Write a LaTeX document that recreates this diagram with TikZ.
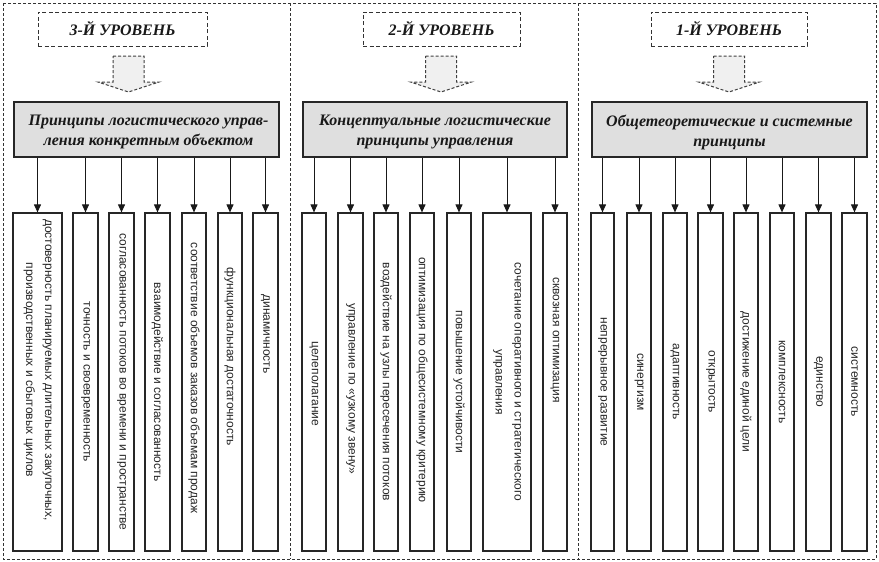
\documentclass[tikz,border=0pt]{standalone}
\usepackage{fontspec}
\setmainfont{Liberation Serif}
\newfontfamily\sansf{Liberation Sans}
\usetikzlibrary{arrows.meta}
\newcommand\pbox[6]{%
  \pgfmathsetmacro\pbw{#4-#3}%
  \pgfmathsetmacro\pbx{(#3+#4)/2}%
  \pgfmathsetmacro\pby{382+#5}%
  \node[pboxstyle, minimum width=\pbw pt, minimum height=338pt] (#1) at (\pbx,382) {};
  \node[ptext] (#1t) at (\pbx,\pby) {#6};
  \draw[conn] (#2.south -| #1.north) -- (#1.north);
}
\begin{document}
\begin{tikzpicture}[x=1pt,y=-1pt,
  frame/.style={draw=black!80, line width=1pt, dash pattern=on 3pt off 2pt},
  levelbox/.style={draw=black!80, line width=1pt, dash pattern=on 4pt off 2.5pt, fill=white,
    font=\fontsize{16}{18}\selectfont\bfseries\itshape, inner sep=0pt, text=black!90},
  headbox/.style={draw=black!85, line width=1.4pt, fill=gray!25, inner sep=0pt},
  headtext/.style={font=\fontsize{16}{20}\selectfont\bfseries\itshape, align=center, inner sep=0pt, text=black!90},
  pboxstyle/.style={draw=black!85, line width=1.2pt, fill=white, inner sep=0pt},
  ptext/.style={rotate=-90, font=\sansf\fontsize{12}{19}\selectfont, align=center, inner sep=0pt, text=black!85},
  conn/.style={draw=black!90, line width=1pt, -{Triangle[length=8pt,width=7pt]}},
  bigarrow/.style={draw=black!75, line width=1pt, dash pattern=on 3pt off 2pt, fill=gray!12},
  bigarr/.pic={\draw[bigarrow] (-15.5,56) -- (15.5,56) -- (15.5,82) -- (30.5,82) -- (0,92) -- (-30.5,82) -- (-15.5,82) -- cycle;}
]
\useasboundingbox (0,0) rectangle (879,562);
\fill[white] (0,0) rectangle (879,562);
% frames
\draw[frame] (3,3) rectangle (876,559);
\draw[frame] (290,3) -- (290,559);
\draw[frame] (578,3) -- (578,559);
% level boxes
\node[levelbox, minimum width=169pt, minimum height=34pt] (L3) at (122.5,29) {3-Й УРОВЕНЬ};
\node[levelbox, minimum width=157pt, minimum height=34pt] (L2) at (441.5,29) {2-Й УРОВЕНЬ};
\node[levelbox, minimum width=156pt, minimum height=34pt] (L1) at (729,29) {1-Й УРОВЕНЬ};
% big dashed arrows
\pic at (128.5,0) {bigarr};
\pic at (441,0) {bigarr};
\pic at (729,0) {bigarr};
% head boxes
\node[headbox, minimum width=265pt, minimum height=55pt] (H3) at (146.5,129.5) {};
\node[headtext] (H3t) at (148.5,132) {Принципы логистического управ-\\ления конкретным объектом};
\node[headbox, minimum width=264pt, minimum height=55pt] (H2) at (435,129.5) {};
\node[headtext] (H2t) at (435,132) {Концептуальные логистические\\принципы управления};
\node[headbox, minimum width=275pt, minimum height=55pt] (H1) at (729.5,129.5) {};
\node[headtext] (H1t) at (729.5,132) {Общетеоретические и системные\\принципы};
% column 3-й уровень
\pbox{b31}{H3}{13}{62}{-12}{достоверность планируемых длительных закупочных,\\производственных и сбытовых циклов}
\pbox{b32}{H3}{73}{98}{0}{точность и своевременность}
\pbox{b33}{H3}{109}{134}{0}{согласованность потоков во времени и пространстве}
\pbox{b34}{H3}{145}{170}{0}{взаимодействие и согласованность}
\pbox{b35}{H3}{182}{206}{-4}{соответствие объемов заказов объемам продаж}
\pbox{b36}{H3}{218}{242}{-25}{функциональная достаточность}
\pbox{b37}{H3}{253}{278}{-48}{динамичность}
% column 2-й уровень
\pbox{b21}{H2}{302}{326}{2}{целеполагание}
\pbox{b22}{H2}{338}{363}{7}{управление по «узкому звену»}
\pbox{b23}{H2}{374}{398}{0}{воздействие на узлы пересечения потоков}
\pbox{b24}{H2}{410}{434}{-2}{оптимизация по общесистемному критерию}
\pbox{b25}{H2}{447}{471}{0}{повышение устойчивости}
\pbox{b26}{H2}{483}{531}{0}{сочетание оперативного и стратегического\\управления}
\pbox{b27}{H2}{543}{567}{-42}{сквозная оптимизация}
% column 1-й уровень
\pbox{b11}{H1}{591}{614}{0}{непрерывное развитие}
\pbox{b12}{H1}{627}{651}{0}{синергизм}
\pbox{b13}{H1}{663}{687}{0}{адаптивность}
\pbox{b14}{H1}{698}{723}{0}{открытость}
\pbox{b15}{H1}{734}{758}{0}{достижение единой цели}
\pbox{b16}{H1}{770}{794}{0}{комплексность}
\pbox{b17}{H1}{806}{831}{0}{единство}
\pbox{b18}{H1}{842}{867}{0}{системность}
\end{tikzpicture}
\end{document}
